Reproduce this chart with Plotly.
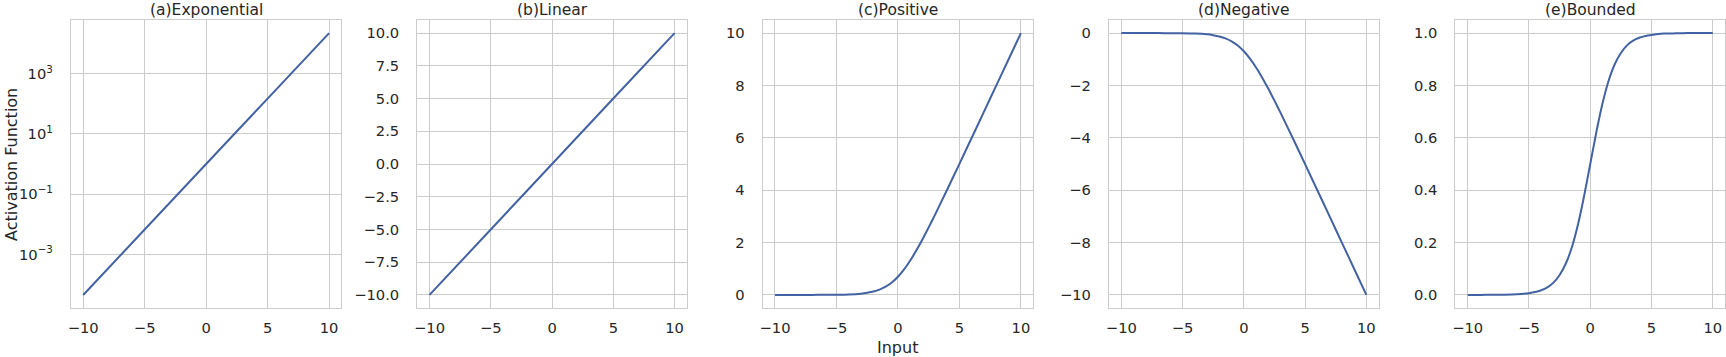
import plotly.graph_objects as go

# ---------------- data ----------------
titles = ["(a)Exponential", "(b)Linear", "(c)Positive", "(d)Negative", "(e)Bounded"]

exp_x = [-10, -5, 0, 5, 10]
exp_y = [4.5e-5, 6.7e-3, 1.0, 148.0, 22000.0]

lin_x = [-10, -5, 0, 5, 10]
lin_y = [-10.0, -5.0, 0.0, 5.0, 10.0]

pos_x = [-10, -9, -8, -7, -6, -5, -4, -3, -2.5, -2, -1.5, -1, -0.5, 0, 0.5, 1, 1.5, 2, 2.5, 3, 4, 5, 6, 7, 8, 9, 10]
pos_y = [0.0, 0.0, 0.0, 0.001, 0.002, 0.007, 0.018, 0.049, 0.079, 0.127, 0.201, 0.313, 0.474, 0.693,
         0.974, 1.313, 1.701, 2.127, 2.579, 3.049, 4.018, 5.007, 6.002, 7.0, 8.0, 9.0, 10.0]

neg_x = [-10, -9, -8, -7, -6, -5, -4, -3, -2.5, -2, -1.5, -1, -0.5, 0, 0.5, 1, 1.5, 2, 2.5, 3, 4, 5, 6, 7, 8, 9, 10]
neg_y = [0.0, 0.0, 0.0, -0.001, -0.002, -0.007, -0.018, -0.049, -0.079, -0.127, -0.201, -0.313, -0.474, -0.693,
         -0.974, -1.313, -1.701, -2.127, -2.579, -3.049, -4.018, -5.007, -6.002, -7.0, -8.0, -9.0, -10.0]

bnd_x = [-10, -9, -8, -7, -6, -5, -4.5, -4, -3.5, -3, -2.5, -2, -1.5, -1, -0.5, 0, 0.5, 1, 1.5, 2, 2.5,
         3, 3.5, 4, 4.5, 5, 6, 7, 8, 9, 10]
bnd_y = [0.0, 0.0001, 0.0003, 0.0009, 0.0025, 0.0067, 0.011, 0.018, 0.029, 0.047, 0.076, 0.119, 0.182,
         0.269, 0.378, 0.5, 0.622, 0.731, 0.818, 0.881, 0.924, 0.953, 0.971, 0.982, 0.989, 0.993, 0.998,
         0.999, 1.0, 1.0, 1.0]

x_ticks = [-10, -5, 0, 5, 10]
x_tick_text = ["\u221210", "\u22125", "0", "5", "10"]

ya_vals = [1e-3, 1e-1, 1e1, 1e3]
ya_text = ["10<sup>\u22123</sup>", "10<sup>\u22121</sup>", "10<sup>1</sup>", "10<sup>3</sup>"]
yb_vals = [-10, -7.5, -5, -2.5, 0, 2.5, 5, 7.5, 10]
yb_text = ["\u221210.0", "\u22127.5", "\u22125.0", "\u22122.5", "0.0", "2.5", "5.0", "7.5", "10.0"]
yc_vals = [0, 2, 4, 6, 8, 10]
yc_text = ["0", "2", "4", "6", "8", "10"]
yd_vals = [0, -2, -4, -6, -8, -10]
yd_text = ["0", "\u22122", "\u22124", "\u22126", "\u22128", "\u221210"]
ye_vals = [0.0, 0.2, 0.4, 0.6, 0.8, 1.0]
ye_text = ["0.0", "0.2", "0.4", "0.6", "0.8", "1.0"]

# ---------------- styling ----------------
W, H = 1726, 357
LINE = "#4262a2"
GRID = "#cccccc"
TXT = "#262626"
FONT = "DejaVu Sans"
FS_TICK = 14.7
FS_LAB = 16

boxes = [(68, 339), (415, 685), (761, 1032), (1108, 1378), (1455, 1725)]
ytop, ybot = 20, 308
ydom = [1 - ybot / H, 1 - ytop / H]

series = [(exp_x, exp_y), (lin_x, lin_y), (pos_x, pos_y), (neg_x, neg_y), (bnd_x, bnd_y)]
yspecs = [
    dict(type="log", range=[-4.777, 4.777], tickvals=ya_vals, ticktext=ya_text),
    dict(range=[-11, 11], tickvals=yb_vals, ticktext=yb_text),
    dict(range=[-0.5, 10.5], tickvals=yc_vals, ticktext=yc_text),
    dict(range=[-10.5, 0.5], tickvals=yd_vals, ticktext=yd_text),
    dict(range=[-0.05, 1.05], tickvals=ye_vals, ticktext=ye_text),
]

fig = go.Figure()
layout = dict(
    width=W, height=H,
    margin=dict(l=0, r=0, t=0, b=0),
    paper_bgcolor="white", plot_bgcolor="white",
    font=dict(family=FONT, size=FS_TICK, color=TXT),
    showlegend=False,
)

common = dict(showline=True, mirror=True, linecolor=GRID, linewidth=1.3,
              showgrid=True, gridcolor=GRID, gridwidth=1.1, zeroline=False,
              ticks="", tickfont=dict(family=FONT, size=FS_TICK, color=TXT))

annotations = []
for i, ((x0, x1), (sx, sy), ys, title) in enumerate(zip(boxes, series, yspecs, titles)):
    n = "" if i == 0 else str(i + 1)
    fig.add_trace(go.Scatter(x=sx, y=sy, mode="lines",
                             line=dict(color=LINE, width=2, shape="spline", smoothing=0.6),
                             xaxis="x" + n, yaxis="y" + n, hoverinfo="skip"))
    layout["xaxis" + n] = dict(domain=[x0 / W, x1 / W], range=[-11, 11], anchor="y" + n,
                               tickvals=x_ticks, ticktext=x_tick_text, ticklabelstandoff=6, **common)
    layout["yaxis" + n] = dict(domain=ydom, anchor="x" + n, ticklabelstandoff=14, **ys, **common)
    annotations.append(dict(text=title, x=(x0 + x1) / 2 / W, y=1 - ytop / H, xref="paper", yref="paper",
                            xanchor="center", yanchor="middle", yshift=10, showarrow=False,
                            font=dict(family=FONT, size=15.5, color=TXT)))

annotations.append(dict(text="Activation Function", x=9 / W, y=1 - (ytop + ybot) / 2 / H,
                        xref="paper", yref="paper", xanchor="center", yanchor="middle",
                        textangle=-90, showarrow=False, font=dict(family=FONT, size=FS_LAB, color=TXT)))
annotations.append(dict(text="Input", x=(boxes[2][0] + boxes[2][1]) / 2 / W, y=1 - 347 / H,
                        xref="paper", yref="paper", xanchor="center", yanchor="middle",
                        showarrow=False, font=dict(family=FONT, size=FS_LAB, color=TXT)))
layout["annotations"] = annotations
fig.update_layout(**layout)
fig.write_html("out.html", config={"displayModeBar": False},
               post_script="document.body.style.margin='0';document.body.style.overflow='hidden';")
